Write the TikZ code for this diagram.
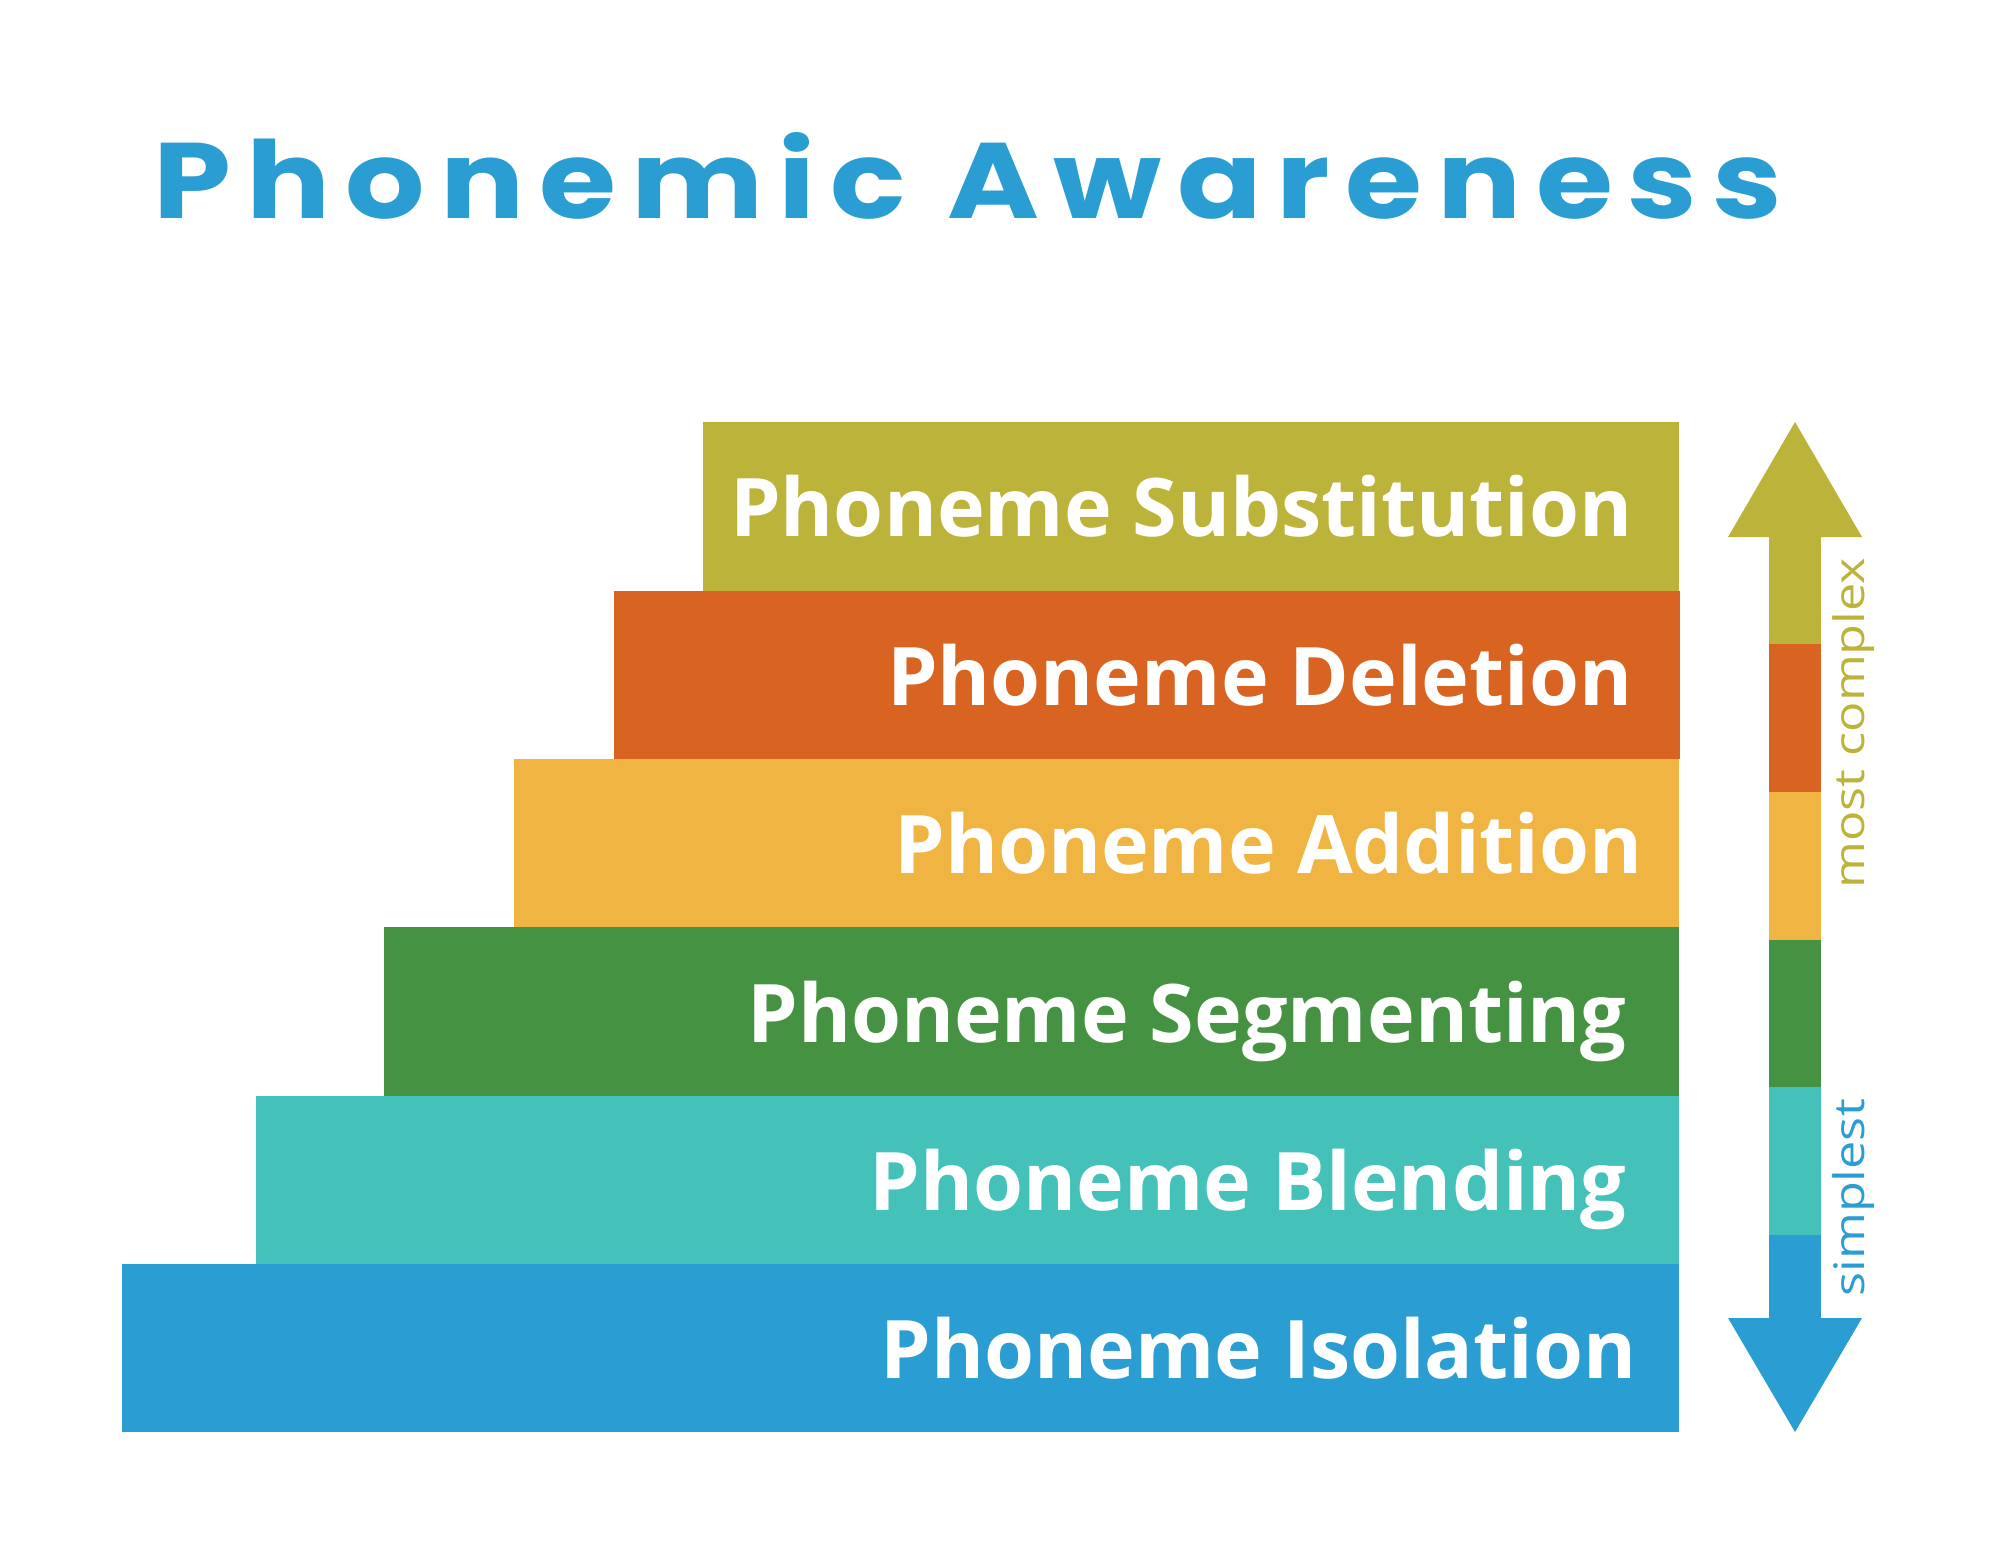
\documentclass[tikz,border=0pt]{standalone}
\usepackage{fontspec}
\setmainfont{Open Sans}
\newfontfamily\titlefont{Poppins}[LetterSpace=12]
\definecolor{cOlive}{HTML}{BCB33A}
\definecolor{cOrange}{HTML}{D96321}
\definecolor{cYellow}{HTML}{F0B443}
\definecolor{cGreen}{HTML}{459342}
\definecolor{cTeal}{HTML}{44C1B9}
\definecolor{cBlue}{HTML}{2A9DD3}
\tikzset{
  lbl/.style={anchor=base east, inner sep=0pt, text=white, font=\fontsize{40.4}{45}\selectfont\bfseries},
  side/.style={anchor=base west, inner sep=0pt, rotate=90, font=\fontsize{21}{24}\selectfont}
}
\begin{document}
\begin{tikzpicture}[x=0.5pt,y=-0.5pt]
\useasboundingbox (0,0) rectangle (2000,1545);
\fill[white] (0,0) rectangle (2000,1545);
% title
\node[anchor=base, inner sep=0pt, text=cBlue] (title) at (968,219)
  {\resizebox{814pt}{43pt}{\titlefont\bfseries Phonemic Awareness}};
% steps
\fill[cOlive]  (703,422)  rectangle (1679,591);
\fill[cOrange] (614,591)  rectangle (1680,759);
\fill[cYellow] (514,759)  rectangle (1679,927);
\fill[cGreen]  (384,927)  rectangle (1679,1096);
\fill[cTeal]   (256,1096) rectangle (1679,1264);
\fill[cBlue]   (122,1264) rectangle (1679,1432);
\node[lbl] (sub) at (1633,536)  {Phoneme Substitution};
\node[lbl] (del) at (1633,705)  {Phoneme Deletion};
\node[lbl] (add) at (1643,873)  {Phoneme Addition};
\node[lbl] (seg) at (1627,1042) {Phoneme Segmenting};
\node[lbl] (ble) at (1627,1210) {Phoneme Blending};
\node[lbl] (iso) at (1637,1378) {Phoneme Isolation};
% arrow
\fill[cOlive]  (1728,537) -- (1795,422) -- (1862,537) -- cycle;
\fill[cOlive]  (1769,536) rectangle (1821,644);
\fill[cOrange] (1769,644) rectangle (1821,792);
\fill[cYellow] (1769,792) rectangle (1821,940);
\fill[cGreen]  (1769,940) rectangle (1821,1087);
\fill[cTeal]   (1769,1087) rectangle (1821,1235);
\fill[cBlue]   (1769,1235) rectangle (1821,1319);
\fill[cBlue]   (1728,1318) -- (1795,1432) -- (1862,1318) -- cycle;
\node[side, text=cOlive] (cx) at (1864,889) {\scalebox{1.2}[1]{most complex}};
\node[side, text=cBlue] (sp) at (1864,1297) {\scalebox{1.2}[1]{simplest}};
\end{tikzpicture}
\end{document}
